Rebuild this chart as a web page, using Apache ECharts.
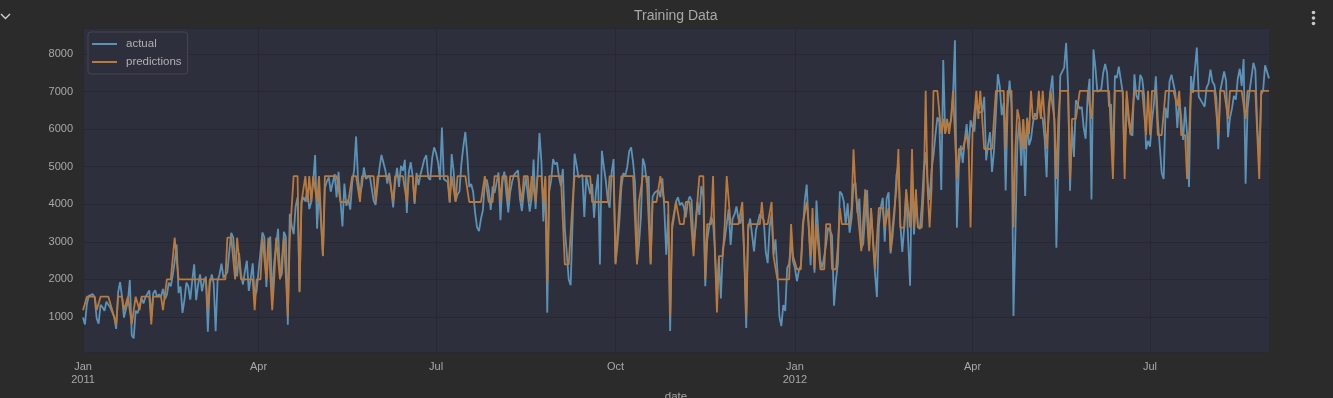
<!DOCTYPE html>
<html>
<head>
<meta charset="utf-8">
<script src="https://cdn.jsdelivr.net/npm/echarts@6/dist/echarts.min.js"></script>
<style>
  html, body { margin: 0; padding: 0; background: #2b2b2b; width: 1333px; height: 398px; overflow: hidden; }
  #chart { width: 1333px; height: 398px; }
</style>
</head>
<body>
<div id="chart"></div>
<script>
// ---- actual daily counts, by month ----
const actual_2011_01 = [985,801,1349,1562,1600,1606,1510,959,822,1321,1263,1162,1406,1421,1248,1204,1000,683,1650,1927,1543,981,986,1416,1985,506,431,1167,1098,1096,1501];
const actual_2011_02 = [1360,1526,1550,1708,1005,1623,1712,1530,1605,1538,1746,1472,1589,1913,1815,2115,2475,2927,1635,1812,1107,1450,1917,1807,1461,1969,2402,1446];
const actual_2011_03 = [1851,2134,1685,1944,2077,605,1872,2133,1891,623,1977,2132,2417,2046,2056,2192,2744,3239,3117,2471,2077,2703,2121,1865,2210,2496,1693,2028,2425,1536,1685];
const actual_2011_04 = [2227,2252,3249,3115,1795,2808,3141,1471,2455,2895,3348,2034,2162,3267,3126,795,3744,3429,3204,3944,4189,1683,4036,4191,4073,4400,3872,4058,4595,5312];
const actual_2011_05 = [3351,4401,4451,2633,4433,4608,4714,4333,4362,4803,4182,4864,4105,3409,4553,3958,4123,3855,4575,4917,5805,4660,4274,4492,4978,4677,4679,4758,4788,4098,3982];
const actual_2011_06 = [3974,4968,5312,5342,4906,4548,4833,4401,3915,4586,4966,4460,5020,4891,5180,3767,4844,5119,4744,4010,4835,4507,4790,4991,5202,5305,4708,4648,5225,5515];
const actual_2011_07 = [5362,5119,4649,6043,4665,4629,4592,4040,5336,4881,4086,4258,4342,5084,5538,5923,5302,4458,4541,4332,3784,3387,3285,3606,3840,4590,4656,4390,3846,4475,4302];
const actual_2011_08 = [4266,4845,3574,4576,4866,4294,3785,4326,4602,4780,4792,4905,4150,3820,4338,4725,4694,3805,4153,5191,3873,4758,5895,5130,3542,4661,1115,4334,4634,5204,5058];
const actual_2011_09 = [5115,4727,4484,4940,3351,2710,1996,1842,3544,5345,5046,4713,4763,4785,3659,4760,4511,4274,4539,3641,4352,4795,2395,5423,5010,4630,4120,3907,4839,5202];
const actual_2011_10 = [2429,2918,3570,4456,4826,4765,4985,5409,5511,5117,4563,2416,2913,3644,5217,5041,4570,4748,2424,4195,4304,4308,4381,4187,4687,3894,2659,3747,627,3331,3669];
const actual_2011_11 = [4068,4186,3974,4046,3926,3649,4035,4205,4109,2933,3368,4067,3717,4486,4195,1817,3053,3392,3663,3520,2765,1607,2566,1495,2792,3068,3071,3867,2914,3613];
const actual_2011_12 = [3727,3940,3614,3485,3811,2594,705,3322,3620,3190,2743,3310,3523,3740,3709,3577,2739,2431,3403,3750,2660,3068,2209,1011,754,1317,1162,2302,2423,2999,2485];
const actual_2012_01 = [2294,1951,2236,2368,3272,4098,4521,3425,2376,3598,2177,4097,3214,2493,2311,2298,2935,3376,3292,3163,1301,1977,2432,4339,4270,4075,3456,4023,3243,3624,4509];
const actual_2012_02 = [4579,3761,4151,2832,2947,3784,4375,2802,3830,3831,2169,1529,3422,3922,4169,3005,4154,4318,2689,3129,3777,4773,5062,3487,2732,3389,4322,4363,1834];
const actual_2012_03 = [4990,3194,4066,3423,3333,3956,4916,5382,4569,4118,4911,5298,5847,6312,6192,4378,7836,5892,6153,6093,6230,6871,8362,3372,4996,5558,5102,5698,6133,5459,6235];
const actual_2012_04 = [6041,5936,6772,6436,6457,6460,6857,5169,5585,5918,4862,5409,6398,7460,7132,6370,6691,4367,6565,7290,6624,1027,3214,5633,6196,5026,6233,4220,6304,5572];
const actual_2012_05 = [5740,6169,6421,6296,6883,6359,6273,5728,4717,6572,7030,7429,6118,2843,5115,7424,7384,7639,8294,7129,4359,6073,5260,6770,6734,6536,6591,6043,5743,6855,7338];
const actual_2012_06 = [4127,8120,7641,6998,7001,7055,7494,7736,7498,6598,6664,4972,7421,7363,7665,7702,6978,5099,6825,6211,5905,5823,7458,6891,6779,7442,7335,6879,5463,5687];
const actual_2012_07 = [5531,6227,6660,7403,6241,6207,4840,4672,6569,6290,7264,7446,7499,6969,6031,6830,6786,5713,6591,5870,4459,7410,6966,7592,8173,6861,6904,6685,6597,7105,7216];
const actual_2012_08 = [7580,7261,7175,6824,5464,7013,7273,7534,7286,5786,6299,6544,6883,6784,7347,7605,7148,7865,4549,6530,7006,7375,7765,7582,6053,5255,6917,7040,7697,7713,7350];

// ---- model predictions, by month ----
const pred_2011_01 = [1180,1180,1540,1540,1540,1540,1540,1180,1180,1540,1540,1540,1540,1540,1540,1180,1180,800,1540,1540,1540,1180,1180,1540,1540,800,800,1540,1540,1180,1540];
const pred_2011_02 = [1540,1540,1540,1540,800,1540,1540,1540,1540,1540,1180,1180,2000,2000,2000,2000,3110,3110,2000,2000,2000,2000,2000,2000,2000,2000,2000,2000];
const pred_2011_03 = [2000,2000,2000,2000,2000,1180,2000,2000,2000,2000,2000,2000,2000,2000,2000,3110,3110,3110,3110,2000,3110,3110,2000,2000,2000,2000,2000,2000,2000,1180,2000];
const pred_2011_04 = [2000,2000,3110,3110,2000,3110,3110,1180,2000,3110,3110,2000,2000,3110,3110,1020,3110,3110,4750,4750,4750,1660,4060,4060,4750,4060,4750,4060,4750,4750];
const pred_2011_05 = [4060,4750,4750,2620,4750,4750,4750,4750,4750,4750,4750,4750,4060,4060,4060,4060,4060,4060,4750,4750,4750,4750,4060,4750,4750,4750,4750,4750,4750,4750,4060];
const pred_2011_06 = [4750,4750,4750,4750,4750,4750,4750,4750,4060,4750,4750,4750,4750,4750,4750,4060,4750,4750,4750,4060,4750,4750,4750,4750,4750,4750,4750,4750,4750,4750];
const pred_2011_07 = [4750,4750,4750,4750,4750,4750,4750,4060,4750,4750,4060,4750,4750,4750,4750,4750,4750,4060,4060,4060,4060,4060,4060,4060,4060,4750,4750,4060,4060,4060,4750];
const pred_2011_08 = [4750,4750,4060,4750,4750,4750,4060,4750,4750,4750,4750,4750,4750,4060,4750,4750,4750,4060,4750,4750,4060,4750,4750,4750,4060,4750,1920,4750,4750,4750,4750];
const pred_2011_09 = [4750,4750,4750,4750,2400,2400,2400,2400,4060,4750,4750,4750,4750,4750,4750,4750,4750,4750,4060,4060,4060,4060,4060,4060,4060,4060,4060,4750,4750,4750];
const pred_2011_10 = [2400,2400,4060,4750,4750,4750,4750,4750,4750,4750,4750,2400,4060,4060,4750,4750,4750,4750,2400,4060,4060,4060,4060,4750,4750,4060,4060,4060,1020,3470,3470];
const pred_2011_11 = [4060,4060,3470,3470,3470,4060,4060,4060,4060,2620,3470,3470,4750,4750,4750,2000,3470,3470,3470,4750,2620,1120,2620,2620,2620,3470,4750,4750,3470,3470];
const pred_2011_12 = [3470,3470,3470,3470,4060,2620,1020,3470,3470,3470,3470,3470,3470,3470,4060,3470,3470,3470,3470,4060,2620,2620,2000,2000,2000,2000,2000,2000,2000,3470,2620];
const pred_2012_01 = [2620,2270,2270,2270,3470,3470,4060,3470,2620,3900,2270,3470,3470,2270,2270,2270,3470,3470,3470,2270,2270,2270,2890,3900,3470,3470,3470,3470,3470,3900,5460];
const pred_2012_02 = [4400,3900,3900,2750,2750,4400,4400,2750,3900,3900,2270,2270,3900,3900,3900,3380,3380,3900,2750,3380,3900,4400,5470,3380,3380,3380,4400,4400,3380];
const pred_2012_03 = [5470,3380,4400,3380,3380,3380,4400,7020,4400,3380,4400,7020,7020,7020,7020,5870,6270,5870,6270,5870,6270,7020,7020,4670,5470,5470,5470,5470,5870,5470,3380];
const pred_2012_04 = [5870,5870,7020,6270,7020,7020,5470,5470,5470,5470,5470,5470,7020,7020,7020,7020,7020,5470,7020,7020,7020,3380,5470,6530,6270,5470,6270,5470,6270,5870];
const pred_2012_05 = [7020,6270,6270,6270,7020,6270,7020,6270,5470,6270,7020,7020,6270,4670,6270,7020,7020,7020,7020,7020,4670,6270,6270,6270,6270,7020,7020,7020,7020,7020,7020];
const pred_2012_06 = [6270,7020,7020,7020,7020,7020,7020,7020,7020,7020,7020,4670,7020,7020,7020,7020,7020,4670,7020,7020,5840,5840,7020,7020,7020,7020,7020,7020,5840,7020];
const pred_2012_07 = [5840,7020,7020,7020,5840,5840,5840,5840,7020,7020,7020,7020,7020,7020,6620,7020,5840,5840,5840,4670,4670,7020,7020,7020,7020,7020,7020,7020,7020,7020,7020];
const pred_2012_08 = [7020,7020,7020,7020,5840,7020,7020,7020,7020,6270,7020,7020,7020,7020,7020,7020,7020,7020,6270,7020,7020,7020,7020,7020,7020,4670,7020,7020,7020,7020,7020];

// ---- axis ticks ----
const tickDates = ['2011-01-01','2011-04-01','2011-07-01','2011-10-01','2012-01-01','2012-04-01','2012-07-01'];
const tickLabels = ['Jan\n2011','Apr','Jul','Oct','Jan\n2012','Apr','Jul'];
const startDate = '2011-01-01';
const endDate = '2012-08-31';

const actual = [].concat(actual_2011_01, actual_2011_02, actual_2011_03, actual_2011_04, actual_2011_05, actual_2011_06,
  actual_2011_07, actual_2011_08, actual_2011_09, actual_2011_10, actual_2011_11, actual_2011_12,
  actual_2012_01, actual_2012_02, actual_2012_03, actual_2012_04, actual_2012_05, actual_2012_06, actual_2012_07, actual_2012_08);
const predictions = [].concat(pred_2011_01, pred_2011_02, pred_2011_03, pred_2011_04, pred_2011_05, pred_2011_06,
  pred_2011_07, pred_2011_08, pred_2011_09, pred_2011_10, pred_2011_11, pred_2011_12,
  pred_2012_01, pred_2012_02, pred_2012_03, pred_2012_04, pred_2012_05, pred_2012_06, pred_2012_07, pred_2012_08);

function ts(s) { const p = s.split('-').map(Number); return Date.UTC(p[0], p[1] - 1, p[2]); }
const DAY = 86400000;
const t0 = ts(startDate);
const dates = actual.map((_, i) => t0 + i * DAY);
const tickTs = tickDates.map(ts);

const FONT = 'Liberation Sans, Arial, sans-serif';
const TEXT = '#a8a8a8';
const GRID = '#272833';

const chart = echarts.init(document.getElementById('chart'), null, { renderer: 'canvas', width: 1333, height: 398 });
chart.setOption({
  animation: false,
  backgroundColor: '#2b2b2b',
  title: {
    text: 'Training Data', left: 634, top: 9, padding: 0,
    textStyle: { color: '#a9a9a9', fontSize: 14, fontWeight: 'normal', fontFamily: FONT }
  },
  legend: {
    data: ['actual', 'predictions'],
    orient: 'vertical', left: 88, top: 32,
    icon: 'rect', itemWidth: 25, itemHeight: 2, itemGap: 4,
    padding: [5, 6, 5, 4],
    backgroundColor: '#2e2f3c', borderColor: '#46474f', borderWidth: 1, borderRadius: 3,
    textStyle: { color: '#b0b0b0', fontSize: 11.5, fontFamily: FONT, lineHeight: 14, padding: [0, 0, 0, 4] }
  },
  grid: { left: 83, right: 64, top: 28, bottom: 46, show: true, backgroundColor: '#2e2f3c', borderWidth: 0,
    containLabel: false, outerBoundsMode: 'none' },
  xAxis: {
    type: 'value', min: ts(startDate), max: ts(endDate),
    name: 'date', nameLocation: 'middle', nameGap: 37,
    nameTextStyle: { color: TEXT, fontSize: 11.5, fontFamily: FONT },
    axisLine: { show: false }, axisTick: { show: false, customValues: tickTs },
    axisLabel: {
      customValues: tickTs, color: TEXT, fontSize: 11, fontFamily: FONT, lineHeight: 13, margin: 8,
      formatter: function (v) { const i = tickTs.indexOf(v); return i >= 0 ? tickLabels[i] : ''; }
    },
    splitLine: { show: true, lineStyle: { color: GRID, width: 1 } }
  },
  yAxis: {
    type: 'value', min: 67, max: 8691, splitNumber: 8,
    axisLine: { show: false }, axisTick: { show: false },
    axisLabel: { color: TEXT, fontSize: 11, fontFamily: FONT, margin: 10, showMinLabel: false, showMaxLabel: false,
      formatter: function (v) { return String(v); } },
    splitLine: { show: true, lineStyle: { color: GRID, width: 1 } }
  },
  series: [
    { name: 'actual', type: 'line', showSymbol: false, symbol: 'none', z: 2,
      color: '#5b93b8', lineStyle: { color: '#5b93b8', width: 1.8 },
      data: dates.map((d, i) => [d, actual[i]]) },
    { name: 'predictions', type: 'line', showSymbol: false, symbol: 'none', z: 3,
      color: '#bb793a', lineStyle: { color: '#bb793a', width: 1.8 },
      data: dates.map((d, i) => [d, predictions[i]]) }
  ],
  graphic: [
    { type: 'polyline', shape: { points: [[1, 14], [5.5, 18.5], [10, 14]] }, style: { stroke: '#d0d0d0', lineWidth: 1.4, fill: null } },
    { type: 'circle', shape: { cx: 1313.5, cy: 12.5, r: 1.8 }, style: { fill: '#c8c8c8' } },
    { type: 'circle', shape: { cx: 1313.5, cy: 18, r: 1.8 }, style: { fill: '#c8c8c8' } },
    { type: 'circle', shape: { cx: 1313.5, cy: 23.5, r: 1.8 }, style: { fill: '#c8c8c8' } }
  ]
});
</script>
</body>
</html>
